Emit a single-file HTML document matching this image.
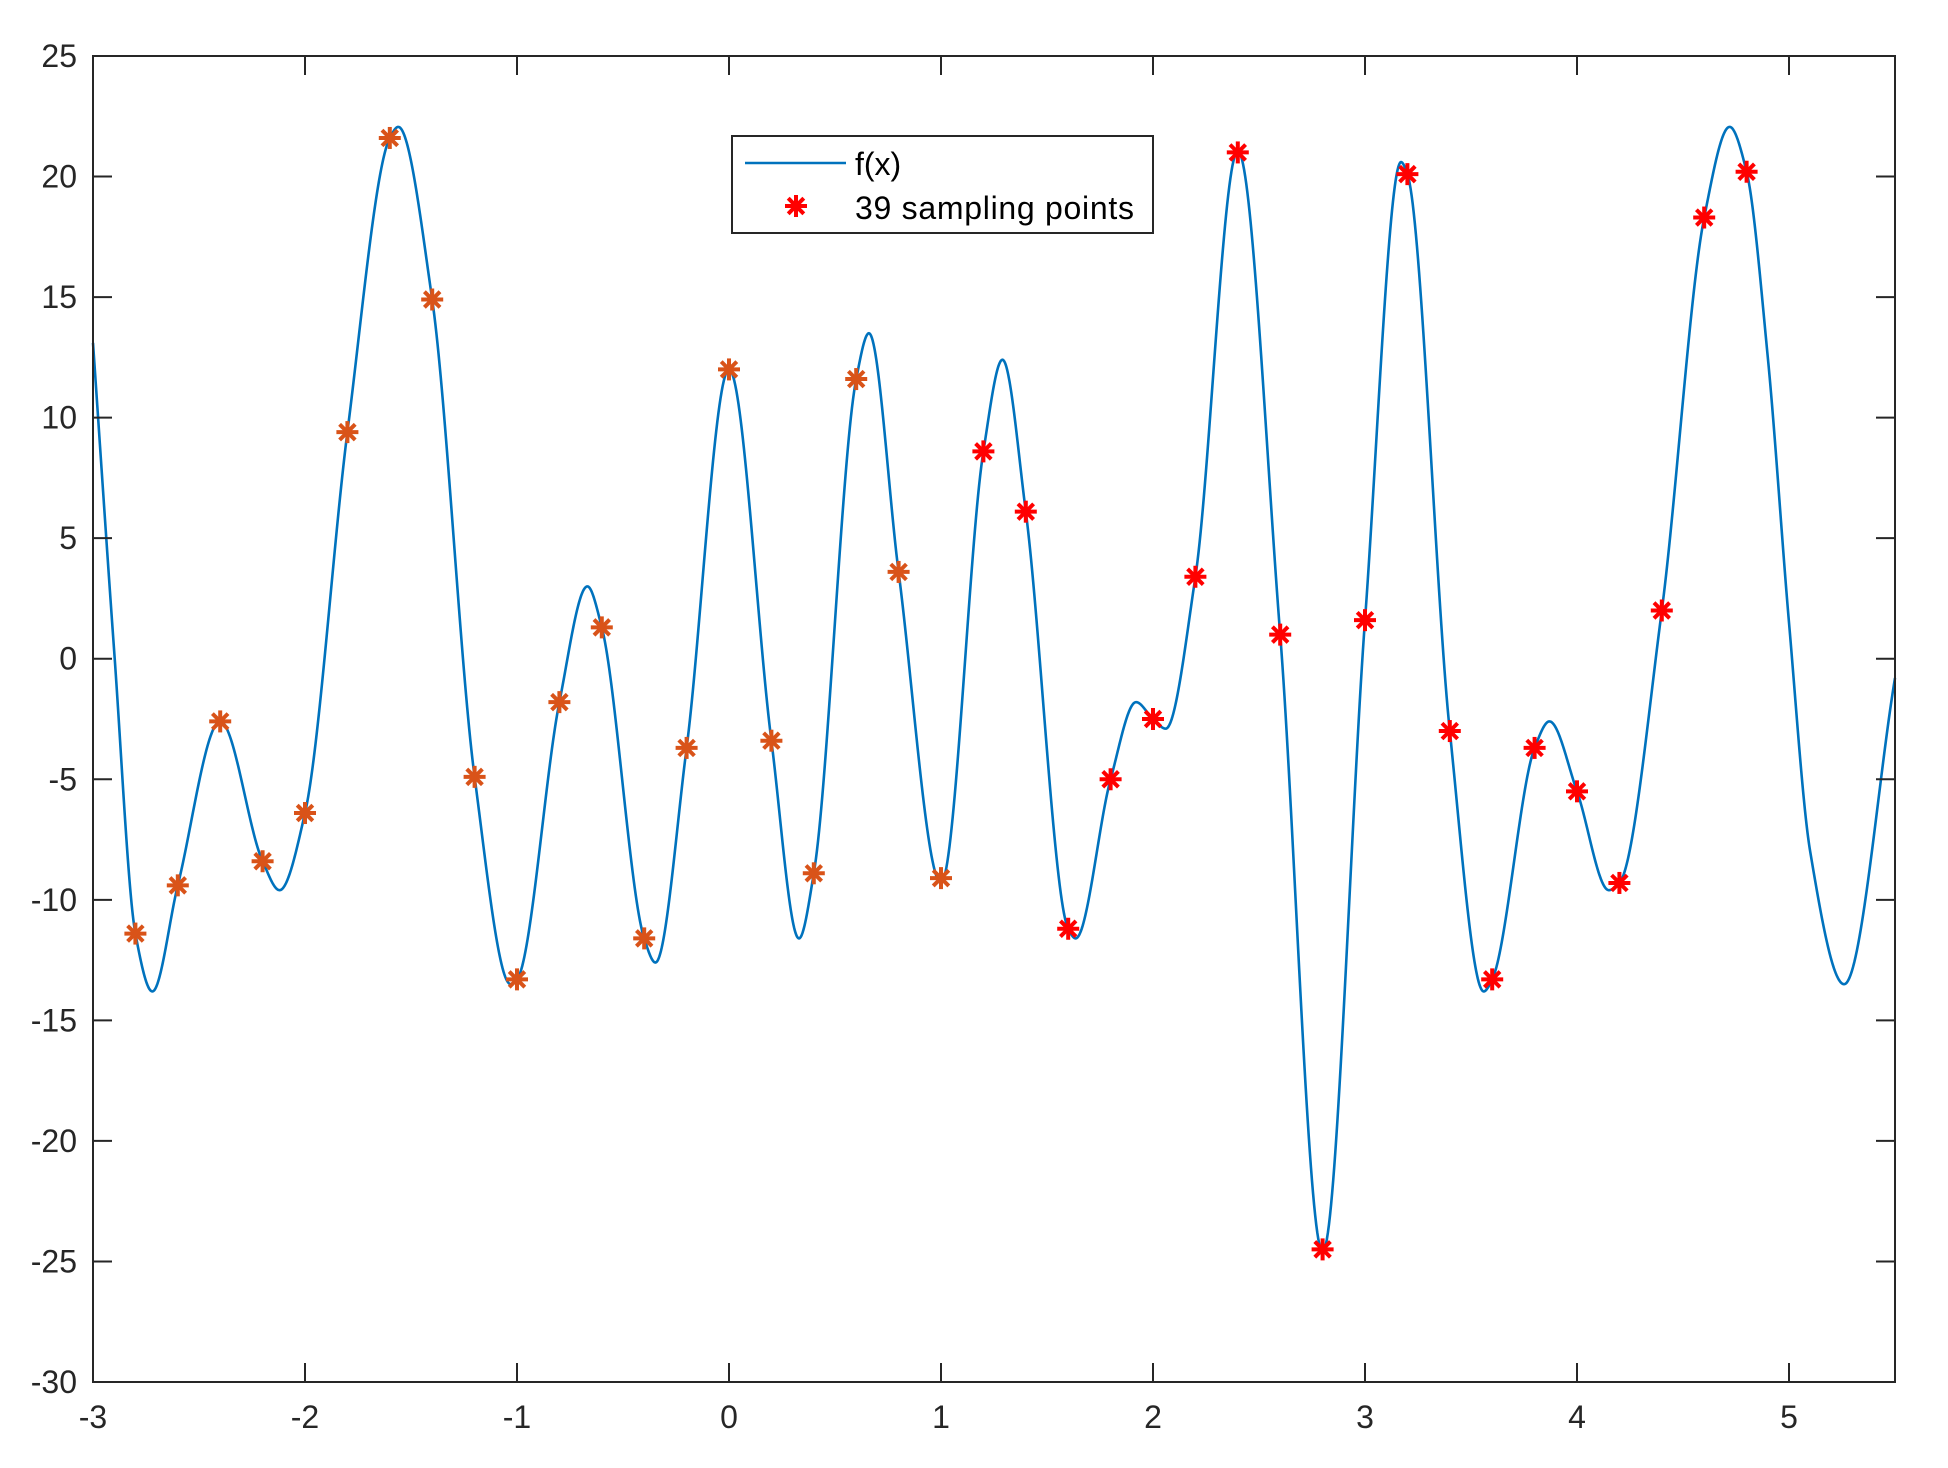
<!DOCTYPE html>
<html><head><meta charset="utf-8"><style>
html,body{margin:0;padding:0;background:#fff;}
svg{display:block;font-family:"Liberation Sans",Arial,sans-serif;}
</style></head><body>
<svg id="chart" width="1948" height="1468" viewBox="0 0 1948 1468" xmlns="http://www.w3.org/2000/svg">
<rect x="0" y="0" width="1948" height="1468" fill="#fff"/>
<g id="plot"></g>
<g id="axes"></g>
<g id="legend">
<rect x="732" y="136" width="421" height="97" fill="#fff" stroke="#262626" stroke-width="2"/>
<line x1="745" y1="163" x2="846" y2="163" stroke="#0072BD" stroke-width="2.5"/>
<text x="855" y="175" font-size="32" fill="#000">f(x)</text>
<g id="legstar"></g>
<text x="855" y="219" font-size="32" fill="#000" textLength="279">39 sampling points</text>
</g>
</svg>
<script>
const xTicks=[-3,-2,-1,0,1,2,3,4,5];
const yTicks=[-30,-25,-20,-15,-10,-5,0,5,10,15,20,25];
const sampleX=[-2.8,-2.6,-2.4,-2.2,-2.0,-1.8,-1.6,-1.4,-1.2,-1.0,-0.8,-0.6,-0.4,-0.2,0,0.2,0.4,0.6,0.8,1.0,1.2,1.4,1.6,1.8,2.0,2.2,2.4,2.6,2.8,3.0,3.2,3.4,3.6,3.8,4.0,4.2,4.4,4.6,4.8];
const sampleY=[-11.4,-9.4,-2.6,-8.4,-6.4,9.4,21.6,14.9,-4.9,-13.3,-1.8,1.3,-11.6,-3.7,12.0,-3.4,-8.9,11.6,3.6,-9.1,8.6,6.1,-11.2,-5.0,-2.5,3.4,21.0,1.0,-24.5,1.6,20.1,-3.0,-13.3,-3.7,-5.5,-9.3,2.0,18.3,20.2];
const curveX=[-3,-2.9,-2.8,-2.72,-2.6,-2.4,-2.2,-2.12,-2.0,-1.8,-1.6,-1.56,-1.4,-1.2,-1.03,-1.0,-0.8,-0.668,-0.6,-0.4,-0.347,-0.2,0,0.2,0.33,0.4,0.6,0.66,0.8,1.0,1.2,1.29,1.4,1.6,1.635,1.8,1.92,2.0,2.06,2.2,2.4,2.6,2.8,3.0,3.17,3.2,3.4,3.56,3.6,3.8,3.87,4.0,4.15,4.2,4.4,4.6,4.72,4.8,4.9,5.0,5.1,5.26,5.5];
const curveY=[13.1,0.3,-11.4,-13.8,-9.4,-2.6,-8.4,-9.6,-6.4,9.4,21.6,22.06,14.9,-4.9,-13.5,-13.3,-1.8,3.0,1.3,-11.6,-12.6,-3.7,12.0,-3.4,-11.6,-8.9,11.6,13.5,3.6,-9.3,8.6,12.4,6.1,-11.2,-11.6,-5.0,-1.8,-2.5,-2.9,3.4,21.06,1.0,-24.6,1.6,20.6,20.1,-3.0,-13.8,-13.3,-3.7,-2.6,-5.5,-9.6,-9.3,2.0,18.3,22.06,20.2,12.5,1.5,-8.0,-13.5,-0.8];

const L=93,R=1895,T=56,B=1382;
const xMin=-3,xMax=5.5,yMin=-30,yMax=25;
const sx=v=>L+(v-xMin)/(xMax-xMin)*(R-L);
const sy=v=>B-(v-yMin)/(yMax-yMin)*(B-T);
const NS="http://www.w3.org/2000/svg";
const mk=(t,a,p)=>{const e=document.createElementNS(NS,t);for(const k in a)e.setAttribute(k,a[k]);p.appendChild(e);return e;};
const plot=document.getElementById('plot'),axes=document.getElementById('axes');

function monotone(xs,ys){
  const n=xs.length,d=[],m=new Array(n);
  for(let i=0;i<n-1;i++)d.push((ys[i+1]-ys[i])/(xs[i+1]-xs[i]));
  m[0]=d[0];m[n-1]=d[n-2];
  for(let i=1;i<n-1;i++){ if(d[i-1]*d[i]<=0)m[i]=0; else {const h0=xs[i]-xs[i-1],h1=xs[i+1]-xs[i];const w1=2*h1+h0,w2=h1+2*h0;m[i]=(w1+w2)/(w1/d[i-1]+w2/d[i]);} }
  const pts=[];
  for(let i=0;i<n-1;i++){const h=xs[i+1]-xs[i];const steps=40;
    for(let s=(i?1:0);s<=steps;s++){const t=s/steps,t2=t*t,t3=t2*t;
      const y=(2*t3-3*t2+1)*ys[i]+(t3-2*t2+t)*h*m[i]+(-2*t3+3*t2)*ys[i+1]+(t3-t2)*h*m[i+1];
      pts.push([xs[i]+t*h,y]);}}
  return pts;
}
const pts=monotone(curveX,curveY);
const path=mk('path',{d:'M'+pts.map(p=>sx(p[0]).toFixed(2)+','+sy(p[1]).toFixed(2)).join('L'),fill:'none',stroke:'#0072BD','stroke-width':2.6},plot);



function star(cx,cy,col,parent){
  const g=mk('g',{stroke:col,'stroke-width':4,'stroke-linecap':'butt'},parent);
  const r=11,d=7.8;
  mk('line',{x1:cx-r,y1:cy,x2:cx+r,y2:cy},g);
  mk('line',{x1:cx,y1:cy-r,x2:cx,y2:cy+r},g);
  mk('line',{x1:cx-d,y1:cy-d,x2:cx+d,y2:cy+d},g);
  mk('line',{x1:cx-d,y1:cy+d,x2:cx+d,y2:cy-d},g);
  return g;
}
sampleX.forEach((x,i)=>{
  const g=star(sx(x),sy(sampleY[i]),x<=1.001?'#D95319':'#FF0000',plot);
  
  
});
star(796,206,'#FF0000',document.getElementById('legstar'));

const box=mk('rect',{x:L,y:T,width:R-L,height:B-T,fill:'none',stroke:'#262626','stroke-width':2},axes);


const tl=19;
xTicks.forEach(v=>{
  const x=sx(v);
  mk('line',{x1:x,y1:B,x2:x,y2:B-tl,stroke:'#262626','stroke-width':2},axes);
  mk('line',{x1:x,y1:T,x2:x,y2:T+tl,stroke:'#262626','stroke-width':2},axes);
  const t=mk('text',{x:x,y:1428,'font-size':32,'text-anchor':'middle',fill:'#262626'},axes);
  t.textContent=String(v);
  
  
});
yTicks.forEach(v=>{
  const y=sy(v);
  mk('line',{x1:L,y1:y,x2:L+tl,y2:y,stroke:'#262626','stroke-width':2},axes);
  mk('line',{x1:R,y1:y,x2:R-tl,y2:y,stroke:'#262626','stroke-width':2},axes);
  const t=mk('text',{x:77,y:y+11,'font-size':32,'text-anchor':'end',fill:'#262626'},axes);
  t.textContent=String(v);
  
  
});
</script>
</body></html>
